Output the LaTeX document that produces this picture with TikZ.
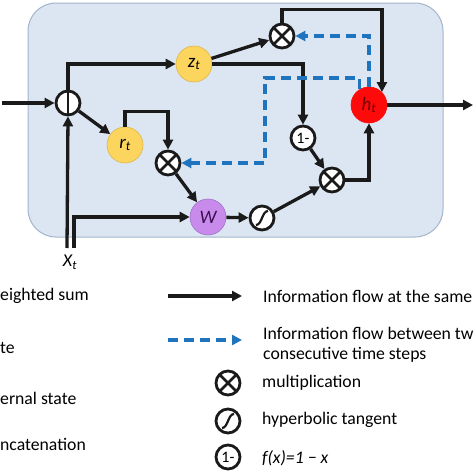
\documentclass[tikz,border=0pt]{standalone}
\usepackage{fontspec}
\setmainfont{Carlito}
\usetikzlibrary{arrows.meta,calc}
\definecolor{bgblue}{HTML}{DCE6F3}
\definecolor{bgborder}{HTML}{A3B5CB}
\definecolor{lineblack}{HTML}{1A1A1A}
\definecolor{dashblue}{HTML}{1F74BD}
\definecolor{gateyellow}{HTML}{FCD55E}
\definecolor{gateborder}{HTML}{E0B64A}
\definecolor{wpurple}{HTML}{C98BEB}
\definecolor{wborder}{HTML}{A070C8}
\definecolor{wtext}{HTML}{3A1050}
\definecolor{hred}{HTML}{FF0A0A}
\definecolor{htext}{HTML}{6E0000}
\tikzset{
  flow/.style={line width=3.3pt, draw=lineblack, -{Triangle[length=10pt,width=10pt]}},
  recur/.style={line width=3.3pt, draw=dashblue, dash pattern=on 10pt off 6pt, -{Triangle[length=10pt,width=10pt]}},
  gate/.style={circle, minimum size=36pt, inner sep=0pt, fill=gateyellow, draw=gateborder, line width=0.6pt, font=\fontsize{19}{20}\selectfont\itshape},
  opc/.style={circle, minimum size=24pt, inner sep=0pt, fill=white, draw=lineblack, line width=2.8pt},
  mult/.style={opc, path picture={\draw[line width=2.8pt,lineblack] (path picture bounding box.north west) -- (path picture bounding box.south east) (path picture bounding box.north east) -- (path picture bounding box.south west);}},
  concat/.style={opc, path picture={\draw[line width=2.8pt,lineblack] (path picture bounding box.north) -- (path picture bounding box.south);}},
  tanhc/.style={opc, path picture={\draw[line width=2.2pt,lineblack] ($(path picture bounding box.center)+(-6,7)$) .. controls +(6,0) and +(-6,0) .. ($(path picture bounding box.center)+(6,-7)$);}},
  onem/.style={opc, font=\fontsize{16}{16}\selectfont},
  legtext/.style={anchor=west, inner sep=0pt, font=\fontsize{17.7}{20}\selectfont},
}
\begin{document}
\begin{tikzpicture}[x=1pt,y=-1pt]
\useasboundingbox (0,0) rectangle (474,474);
\clip (0,0) rectangle (474,474);
% background box
\draw[fill=bgblue, draw=bgborder, line width=1pt, rounded corners=28pt] (28,3) rectangle (443,237);

% nodes
\node[concat] (cat) at (68,103) {};
\node[gate] (z) at (194,64) {z\textsubscript{t}};
\node[gate] (r) at (125,145) {r\textsubscript{t}};
\node[mult] (m1) at (168,163) {};
\node[gate, fill=wpurple, draw=wborder, text=wtext] (W) at (208,217) {W};
\node[mult] (m2) at (282,36) {};
\node[gate, fill=hred, draw=hred, text=htext] (h) at (369,105) {h\textsubscript{t}};
\node[onem] (one) at (303,138) {1-};
\node[mult] (m3) at (332,180) {};
\node[tanhc] (tanh) at (262,218) {};
\node[inner sep=0pt, font=\fontsize{18}{20}\selectfont\itshape] (xt) at (70,262) {X\textsubscript{t}};

\coordinate (inA) at (2,103);
\coordinate (xtA) at (67,248);
\coordinate (xtB) at (74,248);
\coordinate (out) at (473,105);

% black connectors
\draw[flow] (inA) -- (cat.west);
\draw[flow] (xtA) -- (cat.south);
\draw[flow] (xtB) |- (W.west);
\draw[flow] (cat.north) |- (z.west);
\draw[flow] (cat) -- (r);
\draw[flow] (r.north) -- ++(0,-15) -| (m1.north);
\draw[flow] (m1) -- (W);
\draw[flow] (W) -- (tanh);
\draw[flow] (tanh) -- (m3);
\draw[flow] (z) -- (m2);
\draw[flow] (z.east) -| (one.north);
\draw[flow] (one) -- (m3);
\draw[flow] (m3.east) -| (h.south);
\draw[flow] (m2.north) -- ++(0,-13) -| (h.45);
\draw[flow] (h.east) -- (out);

% recurrent (dashed) connectors
\draw[recur] (h.north) |- (m2.east);
\draw[recur] (h.122) |- (265,78) |- (m1.east);

% legend
\node[legtext] (l1) at (0,296) {eighted sum};
\node[legtext] (l2) at (0,348) {te};
\node[legtext] (l3) at (0,398) {ernal state};
\node[legtext] (l4) at (0,444) {ncatenation};

\coordinate (a1s) at (168,296);
\coordinate (a1e) at (242,296);
\coordinate (a2s) at (168,340);
\coordinate (a2e) at (242,340);
\draw[flow] (a1s) -- (a1e);
\draw[recur] (a2s) -- (a2e);
\node[legtext] (t1) at (263,296) {Information flow at the same};
\node[legtext] (t2) at (263,333) {Information flow between tw};
\node[legtext] (t3) at (263,355) {consecutive time steps};
\node[mult, fill=none] (lm) at (228,383) {};
\node[legtext] (t4) at (262,383) {multiplication};
\node[tanhc, fill=none] (lt) at (228,421) {};
\node[legtext] (t5) at (262,420) {hyperbolic tangent};
\node[onem, fill=none] (lo) at (228,457) {1-};
\node[legtext, font=\fontsize{17.7}{20}\selectfont\itshape] (t6) at (262,458) {f(x)=1 − x};
\end{tikzpicture}
\end{document}
